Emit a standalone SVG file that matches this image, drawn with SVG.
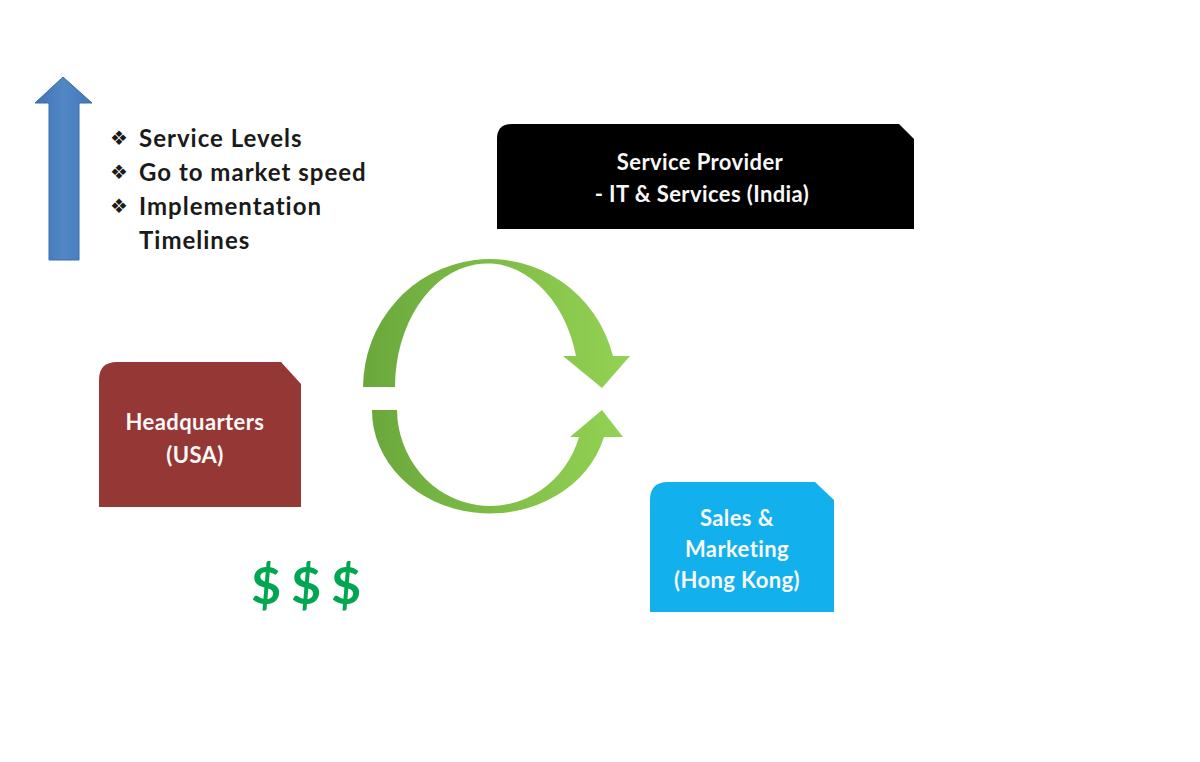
<svg xmlns="http://www.w3.org/2000/svg" width="1200" height="762" viewBox="0 0 1200 762">
<style>
.lbl{font-family:Lato,"Open Sans","Liberation Sans",sans-serif;font-weight:bold;font-size:22px;letter-spacing:0.4px;fill:#f8f8f8;text-anchor:middle}
.bul{font-family:Lato,"Open Sans","Liberation Sans",sans-serif;font-weight:bold;font-size:24px;letter-spacing:1px;fill:#1a1a1a}
.dia{font-family:"DejaVu Sans",sans-serif;font-size:20px;fill:#1a1a1a}
.usd{font-family:Lato,"Liberation Sans",sans-serif;font-weight:bold;font-size:52px;fill:#00a650;text-anchor:middle}
</style>
<defs>
<linearGradient id="g" x1="0" y1="0" x2="1" y2="0">
<stop offset="0" stop-color="#6aa83c"/>
<stop offset="1" stop-color="#94d254"/>
</linearGradient>
<linearGradient id="b" x1="0" y1="0" x2="1" y2="0">
<stop offset="0" stop-color="#3f73b4"/>
<stop offset="0.5" stop-color="#5287c6"/>
<stop offset="1" stop-color="#4278b8"/>
</linearGradient>
</defs>
<rect width="1200" height="762" fill="#ffffff"/>

<g id="up-arrow">
<path d="M63 77 L92 103 L79 103 L79 260 L49 260 L49 103 L35 103 Z" fill="url(#b)" stroke="#3a6ca8" stroke-width="1"/>
</g>

<g id="bullets">
<text class="dia" x="110" y="145">❖</text>
<text class="bul" x="139" y="147">Service Levels</text>
<text class="dia" x="110" y="179">❖</text>
<text class="bul" x="139" y="181">Go to market speed</text>
<text class="dia" x="110" y="213">❖</text>
<text class="bul" x="139" y="215">Implementation</text>
<text class="bul" x="139" y="249">Timelines</text>
</g>

<g id="service-provider">
<path d="M497 229 V139 Q497 124 512 124 H899 L914 139 V229 Z" fill="#000000"/>
<text class="lbl" x="700" y="170">Service Provider</text>
<text class="lbl" x="702" y="202">- IT &amp; Services (India)</text>
</g>

<g id="headquarters">
<path d="M99 507 V380 Q99 362 117 362 H281 L301 384 V507 Z" fill="#953735"/>
<text class="lbl" x="195" y="430">Headquarters</text>
<text class="lbl" x="195" y="463">(USA)</text>
</g>

<g id="sales">
<path d="M650 612 V500 Q650 482 668 482 H815 L834 500 V612 Z" fill="#12b0ec"/>
<text class="lbl" x="737" y="526">Sales &amp;</text>
<text class="lbl" x="737" y="557">Marketing</text>
<text class="lbl" x="737" y="588">(Hong Kong)</text>
</g>

<g id="dollars">
<text class="usd" x="266" y="604">$</text>
<text class="usd" x="306" y="604">$</text>
<text class="usd" x="346" y="604">$</text>
</g>

<g id="connectors">
<path d="M363 387 A127 129 0 0 1 613 356 L630 356 L602 388 L563 356 L576 356 A92 124 0 0 0 395 387 Z" fill="url(#g)"/>
<path d="M372 410 A118 103 0 0 0 604 437 L623 437 L602 410 L570 437 L579 437 A93 97 0 0 1 397 410 Z" fill="url(#g)"/>
</g>
</svg>
